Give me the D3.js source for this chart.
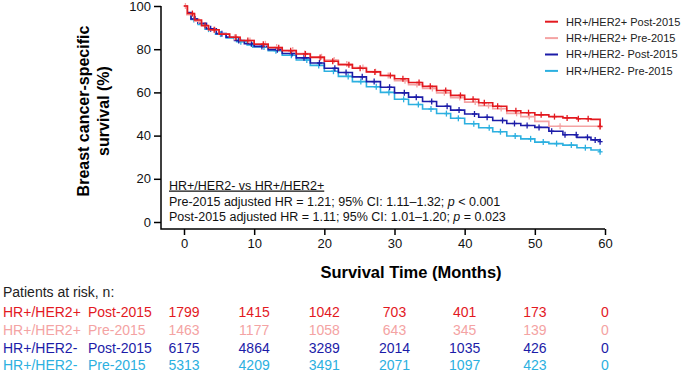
<!DOCTYPE html>
<html>
<head>
<meta charset="utf-8">
<script src="https://cdn.jsdelivr.net/npm/d3@7"></script>
<style>
  body { margin: 0; background: #fff; }
  svg { font-family: "Liberation Sans", Arial, sans-serif; }
</style>
</head>
<body>
<svg id="km" width="685" height="375"></svg>
<script>
// series names and colours
var seriesNames = ['HR+/HER2+ Post-2015', 'HR+/HER2+ Pre-2015', 'HR+/HER2- Post-2015', 'HR+/HER2- Pre-2015']
var riskLabelA = ['HR+/HER2+', 'HR+/HER2+', 'HR+/HER2-', 'HR+/HER2-']
var riskLabelB = ['Post-2015', 'Pre-2015', 'Post-2015', 'Pre-2015']
var colors = ['#e3191f', '#f4a3a3', '#1c1ca8', '#2cb0e0']

// survival curves (month, % surviving)
var redT  = [0, 0.5, 1.5, 2.5, 3.5, 5, 6.5, 8, 10, 12, 14, 16, 18, 20, 22, 24, 26, 28, 30, 32, 34, 36, 38, 40, 42, 44, 46, 48, 50, 52, 54, 56, 58, 59.3]
var redS  = [100, 96.5, 93.5, 91, 89, 87, 85.5, 84, 82.3, 80.7, 79.3, 77.8, 76.2, 74.4, 72.8, 71.2, 69.5, 67.8, 66.3, 64.6, 62.8, 60.9, 58.6, 56.8, 55.2, 53.6, 51.5, 50.6, 49.6, 48.8, 48.2, 47.8, 47.5, 44.3]
var pinkT = [0, 0.4, 1.5, 2.5, 3.5, 5, 6.5, 8, 10, 12, 14, 16, 18, 20, 22, 24, 26, 28, 30, 32, 34, 36, 38, 40, 42, 44, 46, 48, 50, 52, 59.3]
var pinkS = [100, 96, 93, 90.8, 89, 87, 85.5, 84, 82.5, 81, 79.6, 78, 76.5, 75, 73.2, 71.5, 69.6, 67.8, 65.4, 63.6, 61.8, 59.8, 57.6, 55.5, 53.9, 52.5, 50.3, 48.8, 46.6, 44.3, 44.0]
var navyT = [0, 0.4, 1, 2, 3.2, 4.6, 6, 7.2, 8.6, 10, 12, 14, 16, 18, 20, 22, 24, 26, 28, 30, 32, 34, 36, 38, 40, 42, 44, 46, 48, 50, 52, 54, 56, 58, 59.3]
var navyS = [100, 97, 94, 92, 89.5, 87.2, 85.6, 84, 82.5, 81.3, 79.8, 78, 76, 73.6, 71.2, 69.2, 67.2, 65, 62.4, 59.8, 57.8, 55.8, 53.6, 51.8, 50, 48.5, 47, 45.6, 44.7, 43.8, 42, 40.4, 39.2, 38, 37.2]
var cyanT = [0, 0.4, 1, 2, 3, 4.5, 6, 7.5, 9, 10, 12, 14, 16, 18, 20, 22, 24, 26, 28, 30, 32, 34, 36, 38, 40, 42, 44, 46, 48, 50, 52, 54, 56, 58, 59.3]
var cyanS = [100, 96.5, 93.8, 91.5, 89.3, 87, 85.2, 83.5, 82, 81, 79.3, 77.2, 75, 72.5, 69.8, 67.4, 65, 62.6, 60, 56.8, 54.4, 52.3, 50.2, 48, 45.5, 43.6, 41.8, 39.8, 38.5, 37, 36.3, 35.6, 34.4, 33.3, 32.5]

// censoring marks (months)
var redC  = [1.2, 3, 4.3, 7.4, 9.1, 11.3, 13.5, 15.2, 17.3, 19.4, 21.2, 23.5, 25.1, 27.2, 29.4, 31.2, 33.5, 35.1, 37.3, 39.4, 41.2, 42.8, 44.7, 47.3, 49.1, 50.9, 52.8, 54.6, 56.2, 57.6, 59.3]
var pinkC = [0.2, 2.1, 4.4, 7.2, 9.4, 11.6, 13.2, 15.5, 17.2, 19.6, 21.4, 23.2, 25.5, 27.3, 29.1, 31.5, 33.2, 35.4, 37.1, 39.3, 41.5, 43.4, 45.2, 47.4, 49.2, 53.6, 59.3]
var navyC = [1.6, 3.8, 5.4, 7.8, 9.6, 11.1, 13.3, 15.4, 17.1, 19.3, 21.5, 23.1, 25.4, 27.1, 29.3, 31.4, 33.1, 35.3, 37.5, 39.2, 41.4, 43.2, 45.4, 47.1, 48.9, 50.6, 52.4, 54.3, 55.9, 57.5, 58.6, 59.3]
var cyanC = [1.4, 3.5, 5.2, 8.1, 9.8, 11.4, 13.1, 15.3, 17.5, 19.2, 21.3, 23.4, 25.2, 27.4, 29.2, 31.3, 33.4, 35.2, 37.4, 39.1, 41.3, 43.5, 45.1, 47.2, 49.4, 51.2, 53.1, 55.2, 57.2, 59.3]

// number at risk
var riskTimes = [0, 10, 20, 30, 40, 50, 60]
var riskRed  = [1799, 1415, 1042, 703, 401, 173, 0]
var riskPink = [1463, 1177, 1058, 643, 345, 139, 0]
var riskNavy = [6175, 4864, 3289, 2014, 1035, 426, 0]
var riskCyan = [5313, 4209, 3491, 2071, 1097, 423, 0]

var xTicks = [0, 10, 20, 30, 40, 50, 60]
var yTicks = [0, 20, 40, 60, 80, 100]

var curves = [
  {t: redT, s: redS, c: redC},
  {t: pinkT, s: pinkS, c: pinkC},
  {t: navyT, s: navyS, c: navyC},
  {t: cyanT, s: cyanS, c: cyanC}
]
var risks = [riskRed, riskPink, riskNavy, riskCyan]

var svg = d3.select('#km')
var axisLeftX = 161, axisBottomY = 229

var x = d3.scaleLinear().domain([0, 60]).range([184, 605])
var y = d3.scaleLinear().domain([0, 100]).range([222, 6])

// axes
var yAxis = svg.append('g')
  .attr('transform', 'translate(' + axisLeftX + ',0)')
  .call(d3.axisLeft(y).tickValues(yTicks).tickSize(7).tickPadding(3).tickSizeOuter(0))
yAxis.select('.domain').remove()
yAxis.selectAll('.tick line').attr('stroke-width', 1.5)
yAxis.selectAll('.tick text').attr('font-size', 13).attr('fill', '#111').attr('font-family', 'Liberation Sans, Arial, sans-serif')

var xAxis = svg.append('g')
  .attr('transform', 'translate(0,' + axisBottomY + ')')
  .call(d3.axisBottom(x).tickValues(xTicks).tickSize(6).tickPadding(4).tickSizeOuter(0))
xAxis.select('.domain').remove()
xAxis.selectAll('.tick line').attr('stroke-width', 1.5)
xAxis.selectAll('.tick text').attr('font-size', 13).attr('fill', '#111').attr('font-family', 'Liberation Sans, Arial, sans-serif')

svg.append('path')
  .attr('d', 'M' + axisLeftX + ',' + y(100) + 'V' + axisBottomY + 'H' + x(60))
  .attr('fill', 'none')
  .attr('stroke', '#000')
  .attr('stroke-width', 1.5)

// curves, drawn bottom layer first
var line = d3.line().curve(d3.curveStepAfter)
  .x(function(d) { return x(d[0]) })
  .y(function(d) { return y(d[1]) })

var order = [3, 2, 1, 0]
order.forEach(function(k) {
  var cv = curves[k]
  var pts = cv.t.map(function(t, i) { return [t, cv.s[i]] })
  svg.append('path')
    .datum(pts)
    .attr('d', line)
    .attr('fill', 'none')
    .attr('stroke', colors[k])
    .attr('stroke-width', 1.6)

  var bis = d3.bisector(function(d) { return d }).right
  var marks = svg.append('g').attr('stroke', colors[k]).attr('stroke-width', 1.3)
  cv.c.forEach(function(ct) {
    var idx = Math.max(0, bis(cv.t, ct) - 1)
    var cx = x(ct), cy = y(cv.s[idx])
    marks.append('line').attr('x1', cx).attr('x2', cx).attr('y1', cy - 3).attr('y2', cy + 3)
    marks.append('line').attr('x1', cx - 2.5).attr('x2', cx + 2.5).attr('y1', cy).attr('y2', cy)
  })
})

// legend
var legend = svg.append('g')
  .selectAll('g')
  .data(seriesNames)
  .enter().append('g')
  .attr('transform', function(d, i) { return 'translate(545,' + (21.7 + i * 16.4) + ')' })
legend.append('line')
  .attr('x1', 0).attr('x2', 13)
  .attr('stroke', function(d, i) { return colors[i] })
  .attr('stroke-width', 2)
legend.append('text')
  .attr('x', 21)
  .attr('dy', '0.35em')
  .attr('font-size', 11)
  .attr('fill', '#222')
  .text(function(d) { return d })

// axis titles
svg.append('text')
  .attr('transform', 'translate(89,111) rotate(-90)')
  .attr('text-anchor', 'middle')
  .attr('font-size', 16)
  .attr('font-weight', 'bold')
  .text('Breast cancer-specific')
svg.append('text')
  .attr('transform', 'translate(109,111) rotate(-90)')
  .attr('text-anchor', 'middle')
  .attr('font-size', 16)
  .attr('font-weight', 'bold')
  .text('survival (%)')

svg.append('text')
  .attr('x', 411)
  .attr('y', 278)
  .attr('text-anchor', 'middle')
  .attr('font-size', 16.5)
  .attr('font-weight', 'bold')
  .text('Survival Time (Months)')

// hazard ratio annotation
var ann = svg.append('g').attr('font-size', 12.5).attr('fill', '#111')
ann.append('text').attr('x', 169).attr('y', 189.5)
  .attr('text-decoration', 'underline')
  .text('HR+/HER2- vs HR+/HER2+')
var a2 = ann.append('text').attr('x', 169).attr('y', 205.5)
a2.append('tspan').text('Pre-2015 adjusted HR = 1.21; 95% CI: 1.11\u20131.32; ')
a2.append('tspan').attr('font-style', 'italic').text('p')
a2.append('tspan').text(' < 0.001')
var a3 = ann.append('text').attr('x', 169).attr('y', 221)
a3.append('tspan').text('Post-2015 adjusted HR = 1.11; 95% CI: 1.01\u20131.20; ')
a3.append('tspan').attr('font-style', 'italic').text('p')
a3.append('tspan').text(' = 0.023')

// patients at risk table
svg.append('text')
  .attr('x', 3).attr('y', 296.5)
  .attr('font-size', 14)
  .attr('fill', '#222')
  .text('Patients at risk, n:')

risks.forEach(function(row, i) {
  var yy = 317.3 + i * 17.7
  var g = svg.append('g').attr('font-size', 14).attr('fill', colors[i])
  g.append('text').attr('x', 3).attr('y', yy).text(riskLabelA[i])
  g.append('text').attr('x', 88).attr('y', yy).text(riskLabelB[i])
  g.selectAll('text.n')
    .data(row)
    .enter().append('text')
    .attr('class', 'n')
    .attr('x', function(d, j) { return x(riskTimes[j]) })
    .attr('y', yy)
    .attr('text-anchor', 'middle')
    .text(function(d) { return d })
})
</script>
</body>
</html>
